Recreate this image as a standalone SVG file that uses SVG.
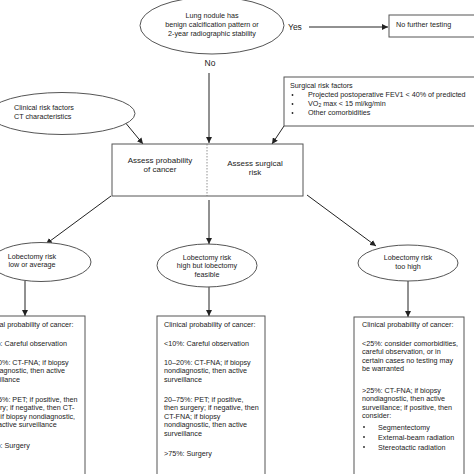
<svg xmlns="http://www.w3.org/2000/svg" width="474" height="474" viewBox="0 0 474 474">
<style>
text{font-family:"Liberation Sans",Arial,sans-serif;font-size:7.2px;fill:#222}
.c{text-anchor:middle}
.m{font-size:8px}
.yn{font-size:8.5px}
.shape{fill:#fff;stroke:#555;stroke-width:1}
.edge{stroke:#222;stroke-width:1;fill:none}
</style>
<defs>
<marker id="ah" markerUnits="userSpaceOnUse" markerWidth="7" markerHeight="6" refX="6" refY="3" orient="auto">
<path d="M0,0 L6,3 L0,6 Z" fill="#222"/>
</marker>
</defs>
<rect width="474" height="474" fill="#fff"/>
<g id="connectors">
<line class="edge" x1="309" y1="27" x2="388" y2="27" marker-end="url(#ah)"/>
<line class="edge" x1="209" y1="73" x2="209" y2="143" marker-end="url(#ah)"/>
<line class="edge" x1="124" y1="121" x2="143" y2="144" marker-end="url(#ah)"/>
<line class="edge" x1="284" y1="126" x2="272" y2="144" marker-end="url(#ah)"/>
<line class="edge" x1="111" y1="196" x2="46" y2="244" marker-end="url(#ah)"/>
<line class="edge" x1="209" y1="200" x2="209" y2="244" marker-end="url(#ah)"/>
<line class="edge" x1="307" y1="195" x2="376" y2="246" marker-end="url(#ah)"/>
<line class="edge" x1="25" y1="281" x2="25" y2="316" marker-end="url(#ah)"/>
<line class="edge" x1="209" y1="287" x2="209" y2="316" marker-end="url(#ah)"/>
<line class="edge" x1="408" y1="281" x2="408" y2="317" marker-end="url(#ah)"/>
<text class="yn" x="288" y="30">Yes</text>
<text class="yn c" x="210" y="66">No</text>
</g>
<g id="start">
<ellipse class="shape" cx="212" cy="25.5" rx="72" ry="28.5"/>
<text class="c" x="212" y="17.5">Lung nodule has</text>
<text class="c" x="212" y="26.5">benign calcification pattern or</text>
<text class="c" x="212" y="36">2-year radiographic stability</text>
</g>
<g id="nofurther">
<rect class="shape" x="389" y="15" width="100" height="22"/>
<text x="396" y="26.5">No further testing</text>
</g>
<g id="surgicalrisk">
<rect class="shape" x="284" y="77" width="200" height="49"/>
<text x="290" y="87.5">Surgical risk factors</text>
<circle cx="292.5" cy="95" r="0.9" fill="#222"/>
<text x="308" y="96.5">Projected postoperative FEV1 &lt; 40% of predicted</text>
<circle cx="292.5" cy="104" r="0.9" fill="#222"/>
<text x="308" y="105.5">VO<tspan font-size="5" dy="1.5">2</tspan><tspan dy="-1.5"> max &lt; 15 ml/kg/min</tspan></text>
<circle cx="292.5" cy="113" r="0.9" fill="#222"/>
<text x="308" y="114.5">Other comorbidities</text>
</g>
<g id="clinicalrisk">
<ellipse class="shape" cx="62" cy="113.5" rx="73" ry="21"/>
<text x="14" y="109.5">Clinical risk factors</text>
<text x="14" y="118.5">CT characteristics</text>
</g>
<g id="assess">
<rect class="shape" x="112" y="144" width="191" height="52"/>
<line x1="207" y1="144" x2="207" y2="196" stroke="#777" stroke-width="0.8" stroke-dasharray="1.5,1.5"/>
<text class="c m" x="160" y="162.5">Assess probability</text>
<text class="c m" x="160" y="171.5">of cancer</text>
<text class="c m" x="255" y="165.5">Assess surgical</text>
<text class="c m" x="255" y="174.5">risk</text>
</g>
<g id="risklow">
<ellipse class="shape" cx="41" cy="262" rx="50" ry="19.5"/>
<text class="c" x="32" y="258.5">Lobectomy risk</text>
<text class="c" x="32" y="267">low or average</text>
</g>
<g id="riskhigh">
<ellipse class="shape" cx="207" cy="265.5" rx="50" ry="21.5"/>
<text class="c" x="207" y="259.5">Lobectomy risk</text>
<text class="c" x="207" y="268">high but lobectomy</text>
<text class="c" x="207" y="276.5">feasible</text>
</g>
<g id="risktoohigh">
<ellipse class="shape" cx="408" cy="263" rx="50" ry="18"/>
<text class="c" x="408" y="259.5">Lobectomy risk</text>
<text class="c" x="408" y="268.5">too high</text>
</g>
<g id="boxlow">
<rect class="shape" x="-25" y="316" width="110" height="170"/>
<text x="-18" y="326.5">Clinical probability of cancer:</text>
<text x="-18" y="345.5">&lt;10%: Careful observation</text>
<text x="-18" y="364.5">10–20%: CT-FNA; if biopsy</text>
<text x="-18" y="373">nondiagnostic, then active</text>
<text x="-18" y="381.5">surveillance</text>
<text x="-18" y="401.5">20–75%: PET; if positive, then</text>
<text x="-18" y="410">surgery; if negative, then CT-</text>
<text x="-18" y="418.5">FNA; if biopsy nondiagnostic,</text>
<text x="-18" y="427">then active surveillance</text>
<text x="-18" y="447.5">&gt;75%: Surgery</text>
</g>
<g id="boxhigh">
<rect class="shape" x="157" y="316" width="108" height="170"/>
<text x="164" y="326.5">Clinical probability of cancer:</text>
<text x="164" y="345.5">&lt;10%: Careful observation</text>
<text x="164" y="364.5">10–20%: CT-FNA; if biopsy</text>
<text x="164" y="373">nondiagnostic, then active</text>
<text x="164" y="381.5">surveillance</text>
<text x="164" y="401.5">20–75%: PET; if positive,</text>
<text x="164" y="410">then surgery; if negative, then</text>
<text x="164" y="418.5">CT-FNA; if biopsy</text>
<text x="164" y="427">nondiagnostic, then active</text>
<text x="164" y="435.5">surveillance</text>
<text x="164" y="456">&gt;75%: Surgery</text>
</g>
<g id="boxtoohigh">
<rect class="shape" x="354" y="317" width="110" height="170"/>
<text x="362" y="326.5">Clinical probability of cancer:</text>
<text x="362" y="345.5">&lt;25%: consider comorbidities,</text>
<text x="362" y="354">careful observation, or in</text>
<text x="362" y="362.5">certain cases no testing may</text>
<text x="362" y="371">be warranted</text>
<text x="362" y="392.5">&gt;25%: CT-FNA; if biopsy</text>
<text x="362" y="401">nondiagnostic, then active</text>
<text x="362" y="409.5">surveillance; if positive, then</text>
<text x="362" y="418">consider:</text>
<circle cx="364" cy="427" r="0.9" fill="#222"/>
<text x="378" y="429.5">Segmentectomy</text>
<circle cx="364" cy="437" r="0.9" fill="#222"/>
<text x="378" y="439.5">External-beam radiation</text>
<circle cx="364" cy="447" r="0.9" fill="#222"/>
<text x="378" y="449.5">Stereotactic radiation</text>
</g>
</svg>
